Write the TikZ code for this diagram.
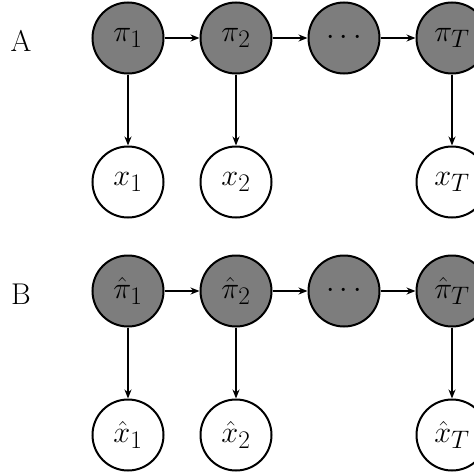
\documentclass[tikz,border=0pt]{standalone}
\usetikzlibrary{arrows.meta}
\definecolor{hidgray}{RGB}{125,125,125}
\newcommand{\nodetext}[1]{\scalebox{1.22}{$#1$}}
\begin{document}
\begin{tikzpicture}[x=1pt,y=-1pt,
  lat/.style={circle,draw=black,line width=2pt,fill=hidgray,minimum size=71pt,inner sep=0pt,font=\Huge},
  obs/.style={circle,draw=black,line width=2pt,fill=white,minimum size=71pt,inner sep=0pt,font=\Huge},
  lab/.style={font=\fontsize{30}{36}\selectfont},
  arr/.style={-{Stealth[length=9pt,width=7pt]},line width=1.5pt}]
\useasboundingbox (0,0) rectangle (474,474);
\clip (0,0) rectangle (474,474);
\fill[white] (0,0) rectangle (474,474);
% Row A
\node[lab] (A) at (21,41) {A};
\node[lat] (p1) at (128,38) {\nodetext{\pi_1}};
\node[lat] (p2) at (236,38) {\nodetext{\pi_2}};
\node[lat] (pd) at (344,38) {\nodetext{\cdots}};
\node[lat] (pT) at (452,38) {\nodetext{\pi_T}};
\node[obs] (x1) at (128,182) {\nodetext{x_1}};
\node[obs] (x2) at (236,182) {\nodetext{x_2}};
\node[obs] (xT) at (452,182) {\nodetext{x_T}};
\draw[arr] (p1) -- (p2);
\draw[arr] (p2) -- (pd);
\draw[arr] (pd) -- (pT);
\draw[arr] (p1) -- (x1);
\draw[arr] (p2) -- (x2);
\draw[arr] (pT) -- (xT);
% Row B
\node[lab] (B) at (21,294) {B};
\node[lat] (q1) at (128,291) {\nodetext{\hat\pi_1}};
\node[lat] (q2) at (236,291) {\nodetext{\hat\pi_2}};
\node[lat] (qd) at (344,291) {\nodetext{\cdots}};
\node[lat] (qT) at (452,291) {\nodetext{\hat\pi_T}};
\node[obs] (y1) at (128,435) {\nodetext{\hat x_1}};
\node[obs] (y2) at (236,435) {\nodetext{\hat x_2}};
\node[obs] (yT) at (452,435) {\nodetext{\hat x_T}};
\draw[arr] (q1) -- (q2);
\draw[arr] (q2) -- (qd);
\draw[arr] (qd) -- (qT);
\draw[arr] (q1) -- (y1);
\draw[arr] (q2) -- (y2);
\draw[arr] (qT) -- (yT);
\end{tikzpicture}
\end{document}
